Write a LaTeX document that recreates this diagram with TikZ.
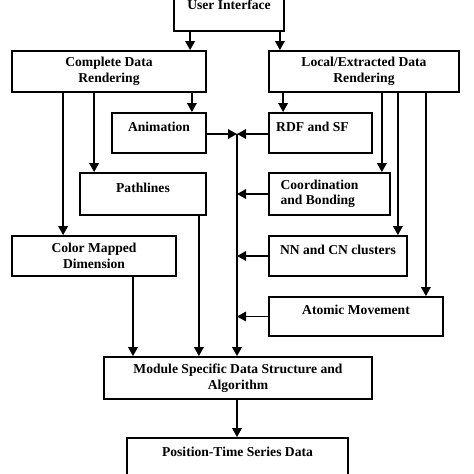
\documentclass[tikz,border=0pt]{standalone}
\usepackage{fontspec}
\setmainfont{Liberation Serif}
\usepackage{tikz}
\usetikzlibrary{arrows.meta,positioning}

\begin{document}
\begin{tikzpicture}[x=1pt,y=-1pt,
    box/.style={draw,line width=1.8pt,inner sep=2pt,align=center,
      font=\bfseries\fontsize{13.6}{15.5}\selectfont},
    oneline/.style={text height=9.5pt,text depth=13pt},
    arr/.style={line width=1.7pt,-{Triangle[length=9pt,width=9.5pt]}}]
  \useasboundingbox (0,0) rectangle (474,474);
  \clip (0,0) rectangle (474,474);
  \node[box,oneline,minimum width=110pt,minimum height=40pt] (ui) at (229,11) {User Interface};
  \node[box,minimum width=194pt,minimum height=41pt] (cdr) at (109,71.5) {Complete Data\\Rendering};
  \node[box,minimum width=190pt,minimum height=41pt] (led) at (364,71.5) {Local/Extracted Data\\Rendering};
  \node[box,oneline,minimum width=94pt,minimum height=40pt] (anim) at (159,133) {Animation};
  \node[box,oneline,minimum width=103pt,minimum height=40pt] (rdf) at (320.5,133) {RDF and SF\hspace*{16pt}};
  \node[box,oneline,minimum width=126pt,minimum height=42pt] (path) at (143,194) {Pathlines};
  \node[box,align=left,minimum width=121pt,minimum height=42pt] (coord) at (329.5,194) {Coordination\hspace*{20pt}\\and Bonding};
  \node[box,minimum width=164pt,minimum height=40pt] (color) at (94,256) {Color Mapped\\Dimension};
  \node[box,oneline,minimum width=138pt,minimum height=40pt] (nn) at (338,256) {NN and CN clusters};
  \node[box,oneline,minimum width=174pt,minimum height=39pt] (atom) at (356,316.5) {Atomic Movement};
  \node[box,minimum width=268pt,minimum height=42pt] (mod) at (238,378) {Module Specific Data Structure and\\Algorithm};
  \node[box,oneline,minimum width=221pt,minimum height=40pt] (pos) at (237.5,458) {Position-Time Series Data};
  \coordinate (bus) at (237,134);

  \draw[arr] ([xshift=17pt]ui.south west) -- ([xshift=17pt]ui.south west |- cdr.north);
  \draw[arr] ([xshift=-5pt]ui.south east) -- ([xshift=-5pt]ui.south east |- led.north);
  \draw[arr] ([xshift=-15pt]anim.north east |- cdr.south) -- ([xshift=-15pt]anim.north east);
  \draw[arr] ([xshift=15pt]path.north west |- cdr.south) -- ([xshift=15pt]path.north west);
  \draw[arr] ([xshift=52pt]color.north west |- cdr.south) -- ([xshift=52pt]color.north west);
  \draw[arr] ([xshift=15pt]rdf.north west |- led.south) -- ([xshift=15pt]rdf.north west);
  \draw[arr] ([xshift=-9pt]coord.north east |- led.south) -- ([xshift=-9pt]coord.north east);
  \draw[arr] ([xshift=-10pt]nn.north east |- led.south) -- ([xshift=-10pt]nn.north east);
  \draw[arr] ([xshift=-18pt]atom.north east |- led.south) -- ([xshift=-18pt]atom.north east);

  \draw[arr] (anim.east |- bus) -- (bus);
  \draw[arr] (rdf.west |- bus) -- (bus);
  \draw[arr] (coord.west) -- (coord.west -| bus);
  \draw[arr] (nn.west) -- (nn.west -| bus);
  \draw[arr] (atom.west) -- (atom.west -| bus);
  \draw[arr] (bus) -- (bus |- mod.north);
  \draw[arr] ([xshift=39pt]color.south) -- ([xshift=39pt]color.south |- mod.north);
  \draw[arr] ([xshift=-8pt]path.south east) -- ([xshift=-8pt]path.south east |- mod.north);
  \draw[arr] (mod.south -| bus) -- (pos.north -| bus);
\end{tikzpicture}
\end{document}
